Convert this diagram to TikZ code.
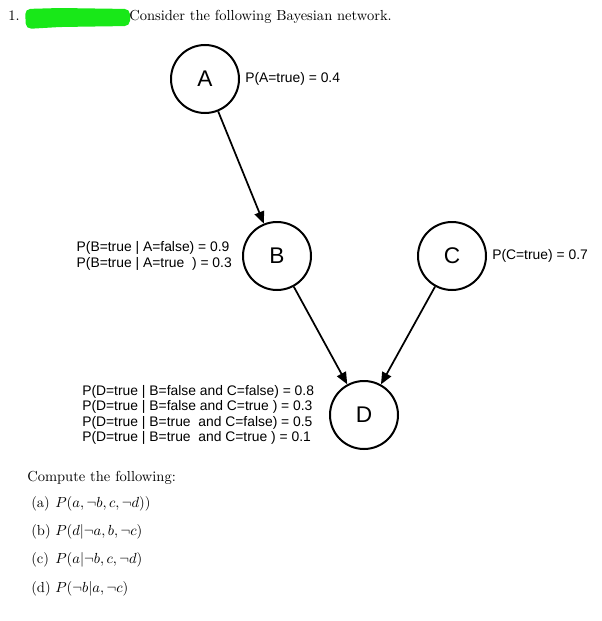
\documentclass[tikz,border=0pt]{standalone}
\usepackage{amsmath}
\usepackage{fontspec}
\newfontfamily\netfont{Liberation Sans}
\usetikzlibrary{arrows.meta}
\definecolor{marker}{RGB}{24,232,24}
\tikzset{
  varnode/.style = {shape=circle, draw, line width=1.5pt,
                    minimum size=51pt, inner sep=0pt,
                    font=\netfont\fontsize{17}{20}\selectfont},
  cpt/.style     = {align=left, inner sep=0pt,
                    font=\netfont\fontsize{10.4}{11.5}\selectfont},
  arc/.style     = {-{Triangle[length=9pt,width=7.5pt]}, line width=1.3pt},
  body/.style    = {anchor=base west, inner sep=0pt,
                    font=\fontsize{10.9}{13}\selectfont}
}

\begin{document}
\begin{tikzpicture}[x=0.75pt, y=-0.75pt]
  \useasboundingbox (0,0) rectangle (601,621);

  % question head, name blacked out in green
  \node[body] (num) at (8,21) {1.};
  \fill[marker, rounded corners=4pt] (25,9) -- (60,8) -- (130,9) -- (130,26)
    -- (60,27) -- (26,29) -- cycle;
  \node[body] (intro) at (129,21) {Consider the following Bayesian network.};

  % the network
  \node[varnode] (A) at (205,79)  {A};
  \node[varnode] (B) at (277,256) {B};
  \node[varnode] (C) at (452,256) {C};
  \node[varnode] (D) at (364,415) {D};

  \draw[arc] (A) -- (B);
  \draw[arc] (B) -- (D);
  \draw[arc] (C) -- (D);

  % tables
  \node[cpt, anchor=west] (pA) at (245,79) {P(A=true) = 0.4};
  \node[cpt, anchor=east] (pB) at (232,256)
    {P(B=true | A=false) = 0.9\\P(B=true | A=true\ \ ) = 0.3};
  \node[cpt, anchor=west] (pC) at (492,256) {P(C=true) = 0.7};
  \node[cpt, anchor=west] (pD) at (82,415)
    {P(D=true | B=false and C=false) = 0.8\\
     P(D=true | B=false and C=true\ ) = 0.3\\
     P(D=true | B=true\ \ and C=false) = 0.5\\
     P(D=true | B=true\ \ and C=true\ ) = 0.1};

  % questions
  \node[body] (task) at (27,481) {Compute the following:};
  \node[body] (la) at (31,507) {(a)};
  \node[body] (qa) at (55,507) {$P(a,\neg b,c,\neg d))$};
  \node[body] (lb) at (31,535) {(b)};
  \node[body] (qb) at (55,535) {$P(d|\neg a,b,\neg c)$};
  \node[body] (lc) at (31,563) {(c)};
  \node[body] (qc) at (55,563) {$P(a|\neg b,c,\neg d)$};
  \node[body] (ld) at (31,592) {(d)};
  \node[body] (qd) at (55,592) {$P(\neg b|a,\neg c)$};
\end{tikzpicture}
\end{document}
